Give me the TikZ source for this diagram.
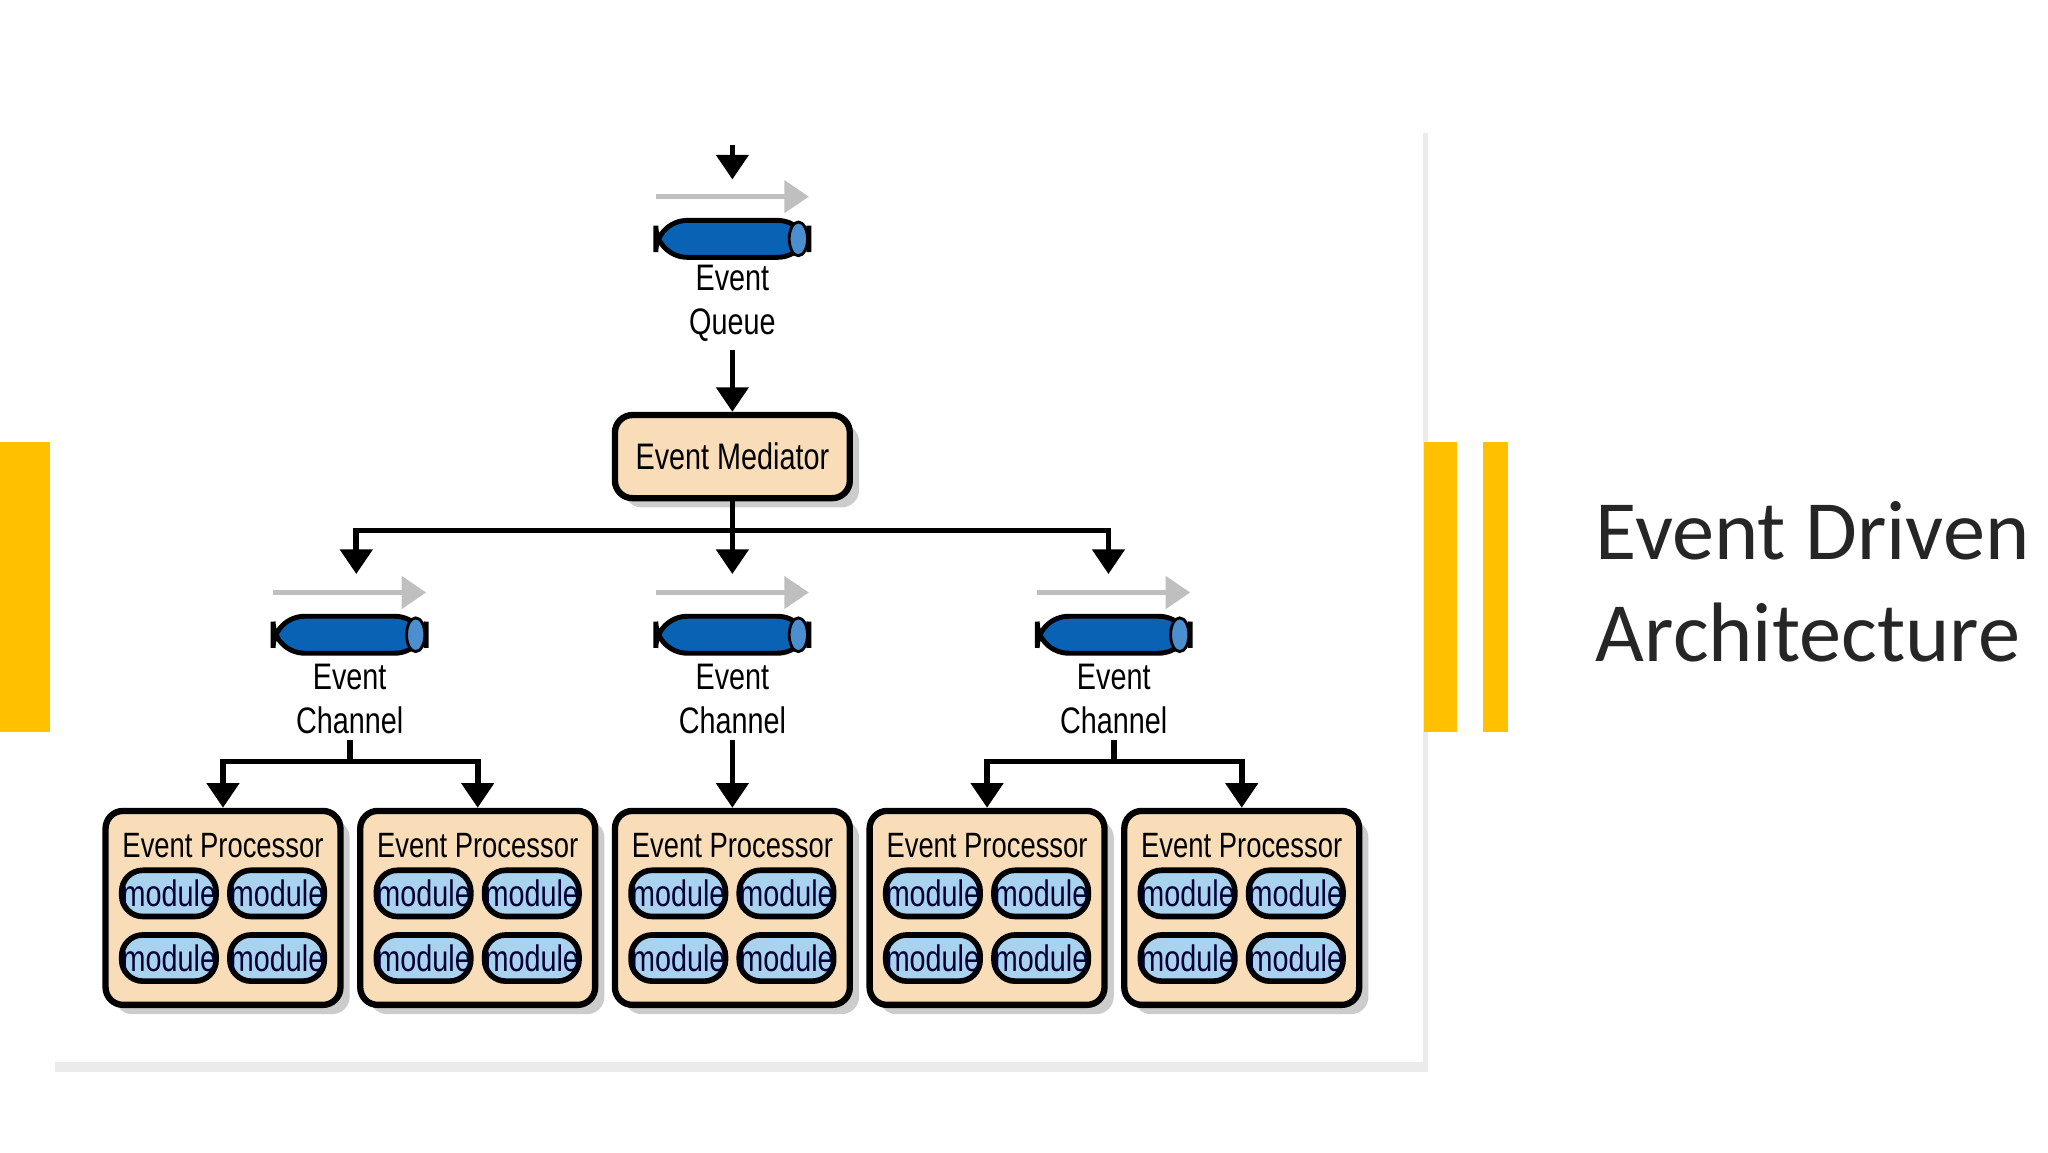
\documentclass[tikz,border=0pt]{standalone}
\usepackage{fontspec}
\setmainfont{Liberation Sans}
\newfontfamily\narrowfont[FakeStretch=0.78]{Liberation Sans}
\newfontfamily\titlefont{Carlito}
\usetikzlibrary{shadows,arrows.meta,calc}
\definecolor{peach}{HTML}{F8DDB8}
\definecolor{modblue}{HTML}{A8D2EE}
\definecolor{pipe}{HTML}{0A62B4}
\definecolor{pipecap}{HTML}{4C8FD0}
\definecolor{gold}{HTML}{FFC000}
% 1 display px of the reference
\newlength{\uu}\setlength{\uu}{0.013196cm}
\tikzset{
  flow/.style={draw=black, line width=1.6pt, -{Triangle[length=7pt,width=9pt]}},
  feed/.style={draw=black!25, line width=1.6pt, -{Triangle[length=7pt,width=9pt]}},
  label/.style={font=\narrowfont\fontsize{10.5}{12.5}\selectfont, align=center, inner sep=0pt},
  proc/.style={draw=black, line width=1.8pt, fill=peach, rounded corners=5pt,
    minimum width=178\uu, minimum height=147\uu, drop shadow={opacity=0.4}},
  mediator/.style={proc, minimum height=63\uu, font=\narrowfont\fontsize{10.5}{12.5}\selectfont},
  module/.style={draw=black, line width=1.6pt, fill=modblue, rounded corners=6pt,
    minimum width=67\uu, minimum height=35\uu, inner sep=0pt,
    font=\narrowfont\fontsize{10.5}{12.5}\selectfont, text=black!80!blue},
}
% draw a horizontal pipe centred at (#1,#2)
\newcommand{\pipeat}[3]{%
  \coordinate (#3) at (#1,#2);
  \fill[pipe, draw=black, line width=1.4pt, rounded corners=9pt]
    ($(#3)+(-58,-14)$) rectangle ($(#3)+(58,14)$);
  \fill[pipecap, draw=black, line width=0.8pt] ($(#3)+(50,0)$) ellipse [x radius=2.6pt, y radius=4.8pt];
  \draw[feed] ($(#3)+(-58,-32)$) -- ($(#3)+(58,-32)$);
}
\begin{document}
\begin{tikzpicture}[x=\uu, y=-\uu]
\useasboundingbox (0,0) rectangle (1552,873);
\fill[white] (0,0) rectangle (1552,873);
% panel
\fill[black!8] (42,101) rectangle (1082,812);
\fill[white] (38,95) rectangle (1078,805);
% yellow bars
\fill[gold] (0,335) rectangle (38,555);
\fill[gold] (1079,335) rectangle (1104,555);
\fill[gold] (1124,335) rectangle (1143,555);
\node[anchor=west, align=left, font=\titlefont\fontsize{24}{29}\selectfont, text=black!85] (title)
  at (1200,441) {Event Driven\\Architecture};

% event queue
\coordinate (in) at (555,110);
\pipeat{555}{181}{Q}
\node[label] (qlab) at (555,230) {Event\\Queue};
\draw[flow] (in) -- ++(0,26);
\node[mediator] (med) at (555,346) {Event Mediator};
\draw[flow] (qlab.south) ++(0,6) -- (med.north);

% channels
\foreach \n/\x in {1/265, 2/555, 3/844} {
  \pipeat{\x}{481}{C\n}
  \node[label] (c\n lab) at (\x,530) {Event\\Channel};
}
\coordinate (split) at (555,402);
\draw[line width=1.6pt] (med.south) -- (split);
\draw[flow] (split) -| (270,435);
\draw[flow] (split) -| (840,435);
\draw[flow] (split) -- (555,435);

% processors
\foreach \n/\x in {1/169, 2/362, 3/555, 4/748, 5/941} {
  \node[proc] (p\n) at (\x,688) {};
  \node[label, font=\narrowfont\fontsize{10}{12}\selectfont] (p\n t) at (\x,641) {Event Processor};
  \node[module] (p\n a) at (\x-41,677) {module};
  \node[module] (p\n b) at (\x+41,677) {module};
  \node[module] (p\n c) at (\x-41,726) {module};
  \node[module] (p\n d) at (\x+41,726) {module};
}
\coordinate (s1) at (265,577);
\coordinate (s3) at (844,577);
\draw[line width=1.6pt] (c1lab.south) ++(0,4) -- (s1);
\draw[flow] (s1) -| (p1.north);
\draw[flow] (s1) -| (p2.north);
\draw[flow] (c2lab.south) ++(0,4) -- (p3.north);
\draw[line width=1.6pt] (c3lab.south) ++(0,4) -- (s3);
\draw[flow] (s3) -| (p4.north);
\draw[flow] (s3) -| (p5.north);
\end{tikzpicture}
\end{document}
